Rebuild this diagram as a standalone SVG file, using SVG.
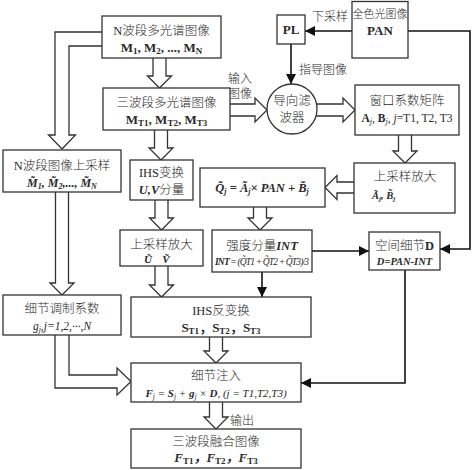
<svg xmlns="http://www.w3.org/2000/svg" width="474" height="470" viewBox="0 0 474 470">
<style>
  text{font-family:"Liberation Serif","Noto Sans CJK SC",serif;fill:#2a2a2a;text-anchor:middle}
  .t{font-size:12.5px;font-weight:300}
  .b{font-weight:bold;font-size:13px}
  .bi{font-weight:bold;font-style:italic}
  .it{font-style:italic}
  .box{fill:#fff;stroke:#333;stroke-width:1.3}
  .hol{fill:#fff;stroke:#333;stroke-width:1.3;stroke-linejoin:miter}
  .sol{fill:none;stroke:#111;stroke-width:1.6}
  .lbl{font-size:12px;font-weight:300}
</style>
<defs>
  <marker id="ah" markerUnits="userSpaceOnUse" markerWidth="10" markerHeight="10" viewBox="0 0 10 10" refX="10" refY="5" orient="auto">
    <path d="M0,0 L10,5 L0,10 z" fill="#111"/>
  </marker>
</defs>
<rect width="474" height="470" fill="#fff"/>

<g id="connectors">
  <!-- hollow block arrows -->
  <path class="hol" d="M153,58 V76 H147.5 L159.5,88 L171.5,76 H166 V58"/>
  <path class="hol" d="M154.5,130 V148 H149 L161,160 L173,148 H167.5 V130"/>
  <path class="hol" d="M155,200 V218 H149.5 L161.5,230 L173.5,218 H168 V200"/>
  <path class="hol" d="M155,266 V285 H149.5 L161.5,297 L173.5,285 H168 V266"/>
  <path class="hol" d="M253.5,207 V218 H248 L260,230 L272,218 H266.5 V207"/>
  <path class="hol" d="M398.5,135 V151 H393 L405,163 L417,151 H411.5 V135"/>
  <path class="hol" d="M55.5,192 V283 H50 L62,295 L74,283 H68.5 V192"/>
  <path class="hol" d="M209.5,337 V351 H204 L216,363 L228,351 H222.5 V337"/>
  <path class="hol" d="M209.5,402 V417 H204 L216,429 L228,417 H222.5 V402"/>
  <path class="hol" d="M230,104 H255 V98 L267,110 L255,122 V116 H230"/>
  <path class="hol" d="M310,104 H343 V98 L355,110 L343,122 V116 H310"/>
  <path class="hol" d="M354,182 H337 V175.5 L325,187.5 L337,199.5 V193 H354"/>
  <path class="hol" d="M102,32 H55 V135 H48.5 L62,149 L75.5,135 H69 V46 H102"/>
  <path class="hol" d="M55,335 V388 H117 V395 L131,381.5 L117,368 V375 H69 V335"/>
  <!-- solid arrows -->
  <path class="sol" d="M352,31 H305" marker-end="url(#ah)"/>
  <path class="sol" d="M291,44 V84" marker-end="url(#ah)"/>
  <path class="sol" d="M408,31 H470 V249 H440" marker-end="url(#ah)"/>
  <path class="sol" d="M312,251 H369" marker-end="url(#ah)"/>
  <path class="sol" d="M262,272 V297" marker-end="url(#ah)"/>
  <path class="sol" d="M405,270 V383 H301" marker-end="url(#ah)"/>
  <!-- labels -->
  <text class="lbl" x="330" y="21">下采样</text>
  <text class="lbl" x="323" y="74">指导图像</text>
  <text class="lbl" x="240" y="83">输入</text>
  <text class="lbl" x="240" y="98">图像</text>
  <text class="lbl" x="242" y="425">输出</text>
</g>

<g id="n-band">
  <rect class="box" x="102" y="16" width="119" height="42"/>
  <text class="t" x="161.5" y="35">N波段多光谱图像</text>
  <text class="b" x="161.5" y="52">M<tspan font-size="9" dy="2">1</tspan><tspan dy="-2">, M</tspan><tspan font-size="9" dy="2">2</tspan><tspan dy="-2">, ..., M</tspan><tspan font-size="9" dy="2">N</tspan></text>
</g>

<g id="three-band">
  <rect class="box" x="103" y="88" width="127" height="42"/>
  <text class="t" x="166.5" y="107">三波段多光谱图像</text>
  <text class="b" x="166.5" y="124">M<tspan font-size="9" dy="2">T1</tspan><tspan dy="-2">, M</tspan><tspan font-size="9" dy="2">T2</tspan><tspan dy="-2">, M</tspan><tspan font-size="9" dy="2">T3</tspan></text>
</g>

<g id="pl">
  <rect class="box" x="277" y="15" width="28" height="29"/>
  <text class="b" x="291" y="34">PL</text>
</g>

<g id="pan">
  <rect class="box" x="352" y="1.5" width="56" height="56.5"/>
  <text x="380" y="18" font-size="11" font-weight="300">全色光图像</text>
  <text class="b" x="380" y="35">PAN</text>
</g>

<g id="guided-filter">
  <circle cx="292" cy="109" r="25" fill="#fff" stroke="#333" stroke-width="1.3"/>
  <text class="t" x="292" y="105">导向滤</text>
  <text class="t" x="292" y="122">波器</text>
</g>

<g id="window-coef">
  <rect class="box" x="355" y="85" width="104" height="50"/>
  <text class="t" x="407" y="105">窗口系数矩阵</text>
  <text x="407" y="122" font-size="11.5"><tspan font-weight="bold">A</tspan><tspan font-size="8" dy="2" font-style="italic">j</tspan><tspan dy="-2">, </tspan><tspan font-weight="bold">B</tspan><tspan font-size="8" dy="2" font-style="italic">j</tspan><tspan dy="-2">, </tspan><tspan font-style="italic">j</tspan>=T1, T2, T3</text>
</g>

<g id="upsample-right">
  <rect class="box" x="354" y="163" width="101" height="50"/>
  <text class="t" x="405" y="181">上采样放大</text>
  <text class="bi" x="372" y="199" font-size="10.5" style="text-anchor:start">Ã<tspan font-size="7" dy="2">j</tspan><tspan dy="-2">, B̃</tspan><tspan font-size="7" dy="2">j</tspan></text>
</g>

<g id="q-box">
  <rect class="box" x="200" y="168" width="125" height="39"/>
  <text class="bi" x="262" y="192" font-size="12.5">Q̃<tspan font-size="8" dy="2">j</tspan><tspan dy="-2"> = Ã</tspan><tspan font-size="8" dy="2">j</tspan><tspan dy="-2">× PAN + B̃</tspan><tspan font-size="8" dy="2">j</tspan></text>
</g>

<g id="n-upsample">
  <rect class="box" x="3" y="150" width="118" height="42"/>
  <text class="t" x="62" y="170">N波段图像上采样</text>
  <text class="bi" x="62" y="187" font-size="12">M̃<tspan font-size="8" dy="2">1</tspan><tspan dy="-2">, M̃</tspan><tspan font-size="8" dy="2">2</tspan><tspan dy="-2">,..., M̃</tspan><tspan font-size="8" dy="2">N</tspan></text>
</g>

<g id="ihs">
  <rect class="box" x="130" y="160" width="63" height="40"/>
  <text class="t" x="161.5" y="177">IHS变换</text>
  <text class="t" x="161.5" y="194"><tspan class="bi">U,V</tspan>分量</text>
</g>

<g id="upsample-mid">
  <rect class="box" x="120" y="230" width="83" height="36"/>
  <text class="t" x="161.5" y="249">上采样放大</text>
  <text class="bi" x="148" y="263" font-size="11">Ũ</text>
  <text class="bi" x="166" y="263" font-size="11">Ṽ</text>
</g>

<g id="intensity">
  <rect class="box" x="212" y="230" width="100" height="42"/>
  <text class="t" x="262" y="250">强度分量<tspan class="bi">INT</tspan></text>
  <text class="it" x="262" y="265" font-size="9.5" textLength="94"><tspan font-weight="bold">INT</tspan> = (Q̃T1 + Q̃T2 + Q̃T3)/3</text>
</g>

<g id="detail-d">
  <rect class="box" x="369" y="232" width="71" height="38"/>
  <text class="t" x="404.5" y="250">空间细节<tspan font-weight="bold">D</tspan></text>
  <text class="bi" x="404.5" y="265" font-size="10.5">D=PAN-INT</text>
</g>

<g id="gain">
  <rect class="box" x="3" y="295" width="118" height="40"/>
  <text class="t" x="62" y="313">细节调制系数</text>
  <text class="it" x="62" y="330" font-size="11.5">g<tspan font-size="8" dy="2">j</tspan><tspan dy="-2">,j=1,2,···,N</tspan></text>
</g>

<g id="ihs-inverse">
  <rect class="box" x="131" y="297" width="180" height="40"/>
  <text class="t" x="221" y="315">IHS反变换</text>
  <text class="b" x="221" y="332">S<tspan font-size="9" dy="2">T1</tspan><tspan dy="-2">，S</tspan><tspan font-size="9" dy="2">T2</tspan><tspan dy="-2">，S</tspan><tspan font-size="9" dy="2">T3</tspan></text>
</g>

<g id="inject">
  <rect class="box" x="131" y="363" width="170" height="39"/>
  <text class="t" x="216" y="380">细节注入</text>
  <text class="it" x="216" y="397" font-size="11"><tspan font-weight="bold">F</tspan><tspan font-size="7.5" dy="2">j</tspan><tspan dy="-2"> = </tspan><tspan font-weight="bold">S</tspan><tspan font-size="7.5" dy="2">j</tspan><tspan dy="-2"> + </tspan><tspan font-weight="bold">g</tspan><tspan font-size="7.5" dy="2">j</tspan><tspan dy="-2"> × </tspan><tspan font-weight="bold">D</tspan><tspan dy="0">, (j = T1,T2,T3)</tspan></text>
</g>

<g id="fused">
  <rect class="box" x="131" y="429" width="170" height="39"/>
  <text class="t" x="216" y="446">三波段融合图像</text>
  <text class="bi" x="216" y="462" font-size="13">F<tspan font-size="9" dy="2" font-style="normal">T1</tspan><tspan dy="-2">，F</tspan><tspan font-size="9" dy="2" font-style="normal">T2</tspan><tspan dy="-2">，F</tspan><tspan font-size="9" dy="2" font-style="normal">T3</tspan></text>
</g>
</svg>
